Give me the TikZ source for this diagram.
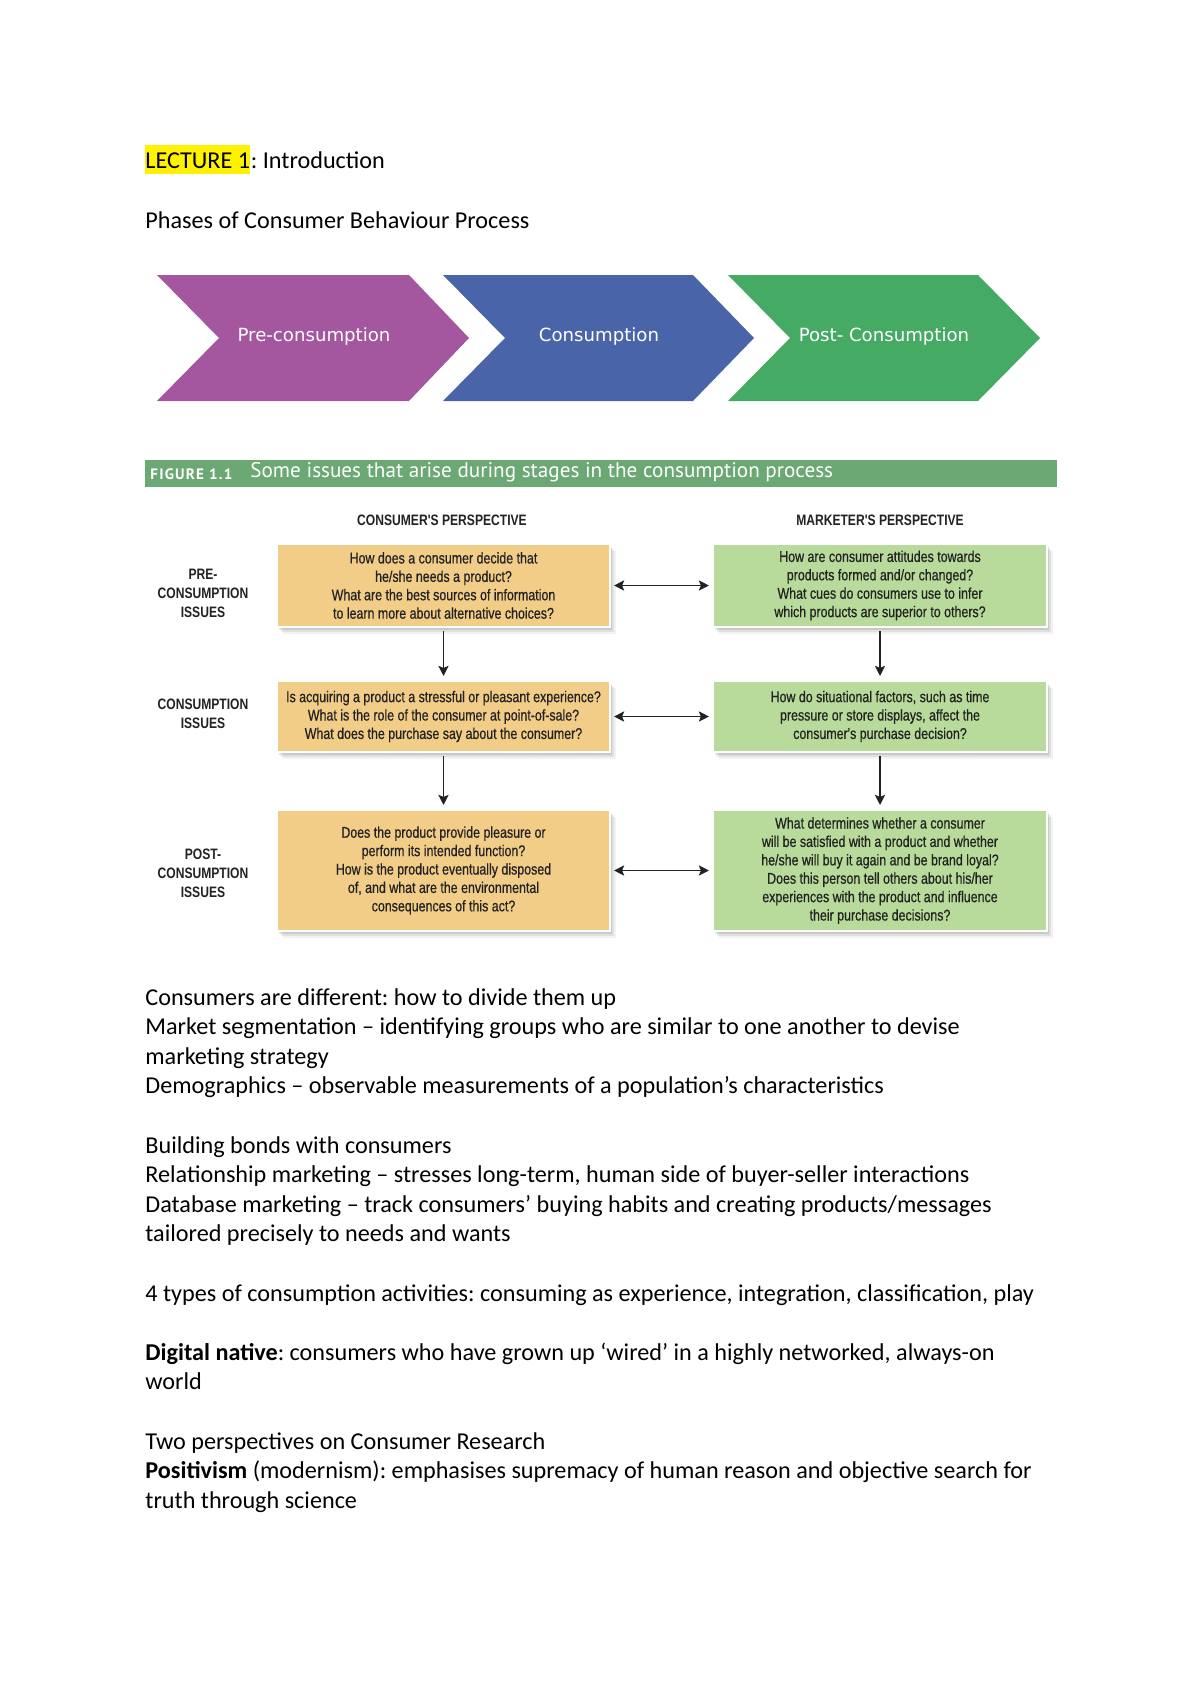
\documentclass[tikz,border=0pt]{standalone}
\usepackage{fontspec}
\setmainfont{Carlito}
\newfontfamily\chevfont{DejaVu Sans}
\newfontfamily\condfont[FakeStretch=0.8]{Liberation Sans}
\newfontfamily\boxfont[FakeStretch=0.8,FakeBold=0.6]{Liberation Sans}
\newfontfamily\capfont{PT Sans}
\newfontfamily\figfont[LetterSpace=8]{PT Sans}
\usetikzlibrary{arrows.meta,shadows}
\definecolor{chpurple}{HTML}{A4569F}
\definecolor{chblue}{HTML}{4964A8}
\definecolor{chgreen}{HTML}{45AA63}
\definecolor{bannergreen}{HTML}{6BA874}
\definecolor{boxorange}{HTML}{F2CD88}
\definecolor{boxgreen}{HTML}{B8DB9B}
\definecolor{inkgray}{HTML}{222222}
\frenchspacing
\begin{document}
\begin{tikzpicture}[x=0.4961pt,y=-0.4961pt,
  body/.style={anchor=base west,inner sep=0pt,font=\fontsize{12}{14.6}\selectfont,text=black},
  chevtext/.style={font=\chevfont\fontsize{9}{11}\selectfont,text=white,inner sep=0pt},
  issuebox/.style={draw=white,line width=1pt,inner sep=2pt,align=center,
    font=\boxfont\fontsize{7.7}{9.13}\selectfont,text=inkgray,
    drop shadow={shadow xshift=0.5pt,shadow yshift=-0.5pt,opacity=0.12,fill=black},
    drop shadow={shadow xshift=1.2pt,shadow yshift=-1.4pt,opacity=0.10,fill=black},
    drop shadow={shadow xshift=2pt,shadow yshift=-2.4pt,opacity=0.07,fill=black},
    drop shadow={shadow xshift=2.8pt,shadow yshift=-3.4pt,opacity=0.05,fill=black}},
  conbox/.style={issuebox,fill=boxorange,minimum width=165.2pt},
  mktbox/.style={issuebox,fill=boxgreen,minimum width=165.7pt},
  rowlabel/.style={align=center,inner sep=0pt,font=\condfont\bfseries\fontsize{7.5}{9.4}\selectfont,text=inkgray},
  colhead/.style={inner sep=0pt,font=\condfont\bfseries\fontsize{7.5}{9}\selectfont,text=inkgray},
  tipa/.tip={Stealth[length=5pt,width=5pt,inset=1pt]},
  biarrow/.style={draw=inkgray,line width=0.9pt,tipa-tipa,shorten <=1.5pt,shorten >=1.5pt},
  downarrow/.style={draw=inkgray,line width=0.9pt,-tipa,shorten <=1.5pt,shorten >=2pt}]
\useasboundingbox (0,0) rectangle (1200,1698);
\fill[white] (0,0) rectangle (1200,1698);

% title
\node[body,fill=yellow,text height=11.4pt,text depth=3.2pt] (lec) at (145,168) {LECTURE 1};
\node[body] (intro) at (lec.base east) {: Introduction};
\node[body] (phases) at (145,228.5) {Phases of Consumer Behaviour Process};

% chevrons
\fill[chpurple] (157,275) -- (409,275) -- (469,338) -- (409,401) -- (157,401) -- (219,338) -- cycle;
\fill[chblue] (443,275) -- (693,275) -- (754,338) -- (693,401) -- (443,401) -- (505,338) -- cycle;
\fill[chgreen] (728,275) -- (978,275) -- (1040,338) -- (978,401) -- (728,401) -- (790,338) -- cycle;
\node[chevtext] (pre) at (314,336) {Pre-consumption};
\node[chevtext] (con) at (599,336) {Consumption};
\node[chevtext] (post) at (884,336) {Post- Consumption};

% figure banner
\node[fill=bannergreen,inner sep=0pt,minimum width=452pt,minimum height=13.4pt,anchor=north west] (banner) at (145,460) {};
\node[anchor=west,inner sep=0pt,text=white,font=\figfont\bfseries\fontsize{7.5}{8}\selectfont] (figlab) at (150,474) {FIGURE 1.1};
\node[anchor=west,inner sep=0pt,text=white,font=\capfont\fontsize{10.5}{12}\selectfont] (figcap) at (250,472.5) {Some issues that arise during stages in the consumption process};

% column headers
\node[colhead] (ch1) at (442,520) {CONSUMER'S PERSPECTIVE};
\node[colhead] (ch2) at (880,520) {MARKETER'S PERSPECTIVE};

% row labels
\node[rowlabel] (rl1) at (203,593) {PRE-\\CONSUMPTION\\ISSUES};
\node[rowlabel] (rl2) at (203,713.5) {CONSUMPTION\\ISSUES};
\node[rowlabel] (rl3) at (203,873) {POST-\\CONSUMPTION\\ISSUES};

% boxes
\node[conbox,minimum height=41.2pt] (l1) at (443.5,585.5) {How does a consumer decide that\\he/she needs a product?\\What are the best sources of information\\to learn more about alternative choices?};
\node[conbox,minimum height=35.2pt] (l2) at (443.5,716.5) {Is acquiring a product a stressful or pleasant experience?\\What is the role of the consumer at point-of-sale?\\What does the purchase say about the consumer?};
\node[conbox,minimum height=60pt] (l3) at (443.5,870.5) {Does the product provide pleasure or\\perform its intended function?\\How is the product eventually disposed\\of, and what are the environmental\\consequences of this act?};
\node[mktbox,minimum height=41.2pt] (r1) at (880,585.5) {How are consumer attitudes towards\\products formed and/or changed?\\What cues do consumers use to infer\\which products are superior to others?};
\node[mktbox,minimum height=35.2pt] (r2) at (880,716.5) {How do situational factors, such as time\\pressure or store displays, affect the\\consumer's purchase decision?};
\node[mktbox,minimum height=60pt] (r3) at (880,870.5) {What determines whether a consumer\\will be satisfied with a product and whether\\he/she will buy it again and be brand loyal?\\Does this person tell others about his/her\\experiences with the product and influence\\their purchase decisions?};

% connectors
\draw[biarrow] (l1.east) -- (r1.west);
\draw[biarrow] (l2.east) -- (r2.west);
\draw[biarrow] (l3.east) -- (r3.west);
\draw[downarrow] (l1.south) -- (l2.north);
\draw[downarrow] (l2.south) -- (l3.north);
\draw[downarrow] (r1.south) -- (r2.north);
\draw[downarrow] (r2.south) -- (r3.north);

% body text
\node[body] (t1) at (145,1005) {Consumers are different: how to divide them up};
\node[body] (t2) at (145,1034.6) {Market segmentation – identifying groups who are similar to one another to devise};
\node[body] (t3) at (145,1064.2) {marketing strategy};
\node[body] (t4) at (145,1093.8) {Demographics – observable measurements of a population’s characteristics};
\node[body] (t5) at (145,1153) {Building bonds with consumers};
\node[body] (t6) at (145,1182.6) {Relationship marketing – stresses long-term, human side of buyer-seller interactions};
\node[body] (t7) at (145,1212.2) {Database marketing – track consumers’ buying habits and creating products/messages};
\node[body] (t8) at (145,1241.8) {tailored precisely to needs and wants};
\node[body] (t9) at (145,1301) {4 types of consumption activities: consuming as experience, integration, classification, play};
\node[body] (t10) at (145,1360.2) {\textbf{Digital native}: consumers who have grown up ‘wired’ in a highly networked, always-on};
\node[body] (t11) at (145,1389.8) {world};
\node[body] (t12) at (145,1449) {Two perspectives on Consumer Research};
\node[body] (t13) at (145,1478.6) {\textbf{Positivism} (modernism): emphasises supremacy of human reason and objective search for};
\node[body] (t14) at (145,1508.2) {truth through science};
\end{tikzpicture}
\end{document}
